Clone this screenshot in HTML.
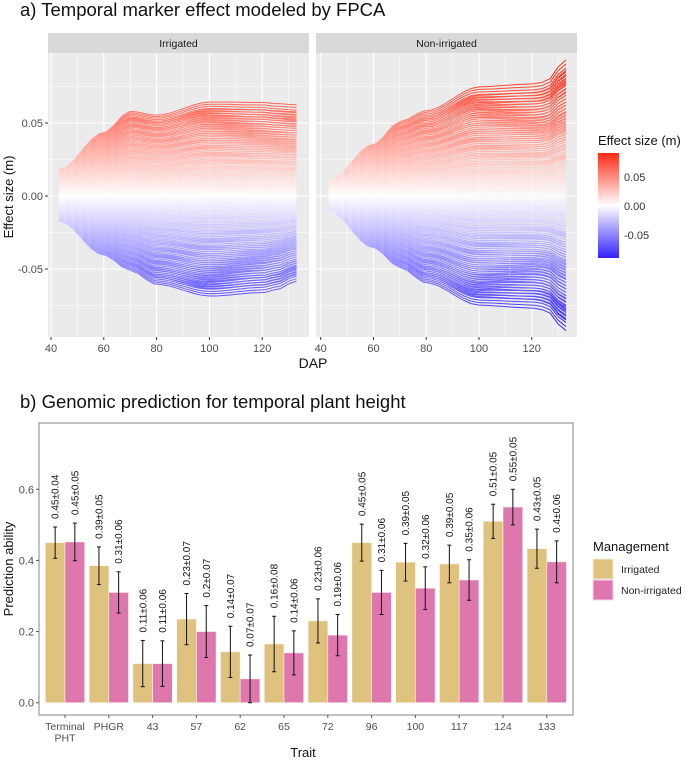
<!DOCTYPE html>
<html><head><meta charset="utf-8">
<style>
html,body{margin:0;padding:0;background:#fff;}
svg{display:block;font-family:"Liberation Sans",sans-serif;}
</style></head>
<body>
<svg id="fig" width="685" height="760" viewBox="0 0 685 760" xmlns="http://www.w3.org/2000/svg">
<defs>
<linearGradient id="cbar" x1="0" y1="0" x2="0" y2="1">
<stop offset="0" stop-color="#ff2a14"/>
<stop offset="0.5" stop-color="#ffffff"/>
<stop offset="1" stop-color="#3322ff"/>
</linearGradient>
</defs>
<text x="20" y="16" font-size="18.5" fill="#111">a) Temporal marker effect modeled by FPCA</text>
<g id="topPanel"></g>
<text x="313" y="368" font-size="14" fill="#111" text-anchor="middle">DAP</text>
<text transform="translate(13,197) rotate(-90)" font-size="13" fill="#111" text-anchor="middle">Effect size (m)</text>
<g>
<text x="598" y="145" font-size="13" fill="#111">Effect size (m)</text>
<rect x="598" y="153" width="21" height="105" fill="url(#cbar)"/>
<text x="624" y="181" font-size="11" fill="#333">0.05</text>
<text x="624" y="210" font-size="11" fill="#333">0.00</text>
<text x="624" y="239" font-size="11" fill="#333">-0.05</text>
</g>
<text x="20" y="408" font-size="18.5" fill="#111">b) Genomic prediction for temporal plant height</text>
<g id="botPanel"></g>
<text x="303" y="757" font-size="13" fill="#111" text-anchor="middle">Trait</text>
<text transform="translate(13,569) rotate(-90)" font-size="13" fill="#111" text-anchor="middle">Prediction ability</text>
<g>
<text x="593" y="551" font-size="13" fill="#111">Management</text>
<rect x="593" y="559" width="20" height="20" fill="#dfc27d" stroke="#f5ecd5"/>
<rect x="593" y="580" width="20" height="20" fill="#de77ae" stroke="#f5d5e5"/>
<text x="621" y="573" font-size="10.5" fill="#222">Irrigated</text>
<text x="621" y="594" font-size="10.5" fill="#222">Non-irrigated</text>
</g>
</svg>
<script>
// ---------- Panel a data ----------
const dapKnots = [43, 60, 70, 80, 100, 120, 125, 133];
const irrUpper = [0.018, 0.043, 0.057, 0.054, 0.062, 0.061, 0.060, 0.059];
const irrLower = [-0.017, -0.040, -0.050, -0.059, -0.066, -0.063, -0.061, -0.055];
const nonUpper = [0.010, 0.035, 0.050, 0.057, 0.072, 0.073, 0.074, 0.088];
const nonLower = [-0.010, -0.035, -0.048, -0.058, -0.072, -0.073, -0.074, -0.087];
const lineFractions = [];
for (let i = 0; i <= 90; i++) lineFractions.push(i / 90);
const xTicksA = [40, 60, 80, 100, 120];
const yTicksA = [-0.05, 0, 0.05];
const yTickLabelsA = ["-0.05", "0.00", "0.05"];
const facetNames = ["Irrigated", "Non-irrigated"];

// ---------- Panel b data ----------
const traits = ["Terminal\nPHT", "PHGR", "43", "57", "62", "65", "72", "96", "100", "117", "124", "133"];
const irrVals = [0.45, 0.385, 0.11, 0.235, 0.143, 0.165, 0.23, 0.45, 0.395, 0.39, 0.51, 0.433];
const nonVals = [0.452, 0.31, 0.11, 0.2, 0.067, 0.14, 0.19, 0.31, 0.322, 0.345, 0.55, 0.396];
const irrErr = [0.044, 0.053, 0.065, 0.072, 0.072, 0.078, 0.062, 0.052, 0.053, 0.053, 0.048, 0.055];
const nonErr = [0.053, 0.058, 0.064, 0.073, 0.067, 0.062, 0.058, 0.062, 0.06, 0.057, 0.05, 0.059];
const irrLabels = ["0.45±0.04","0.39±0.05","0.11±0.06","0.23±0.07","0.14±0.07","0.16±0.08","0.23±0.06","0.45±0.05","0.39±0.05","0.39±0.05","0.51±0.05","0.43±0.05"];
const nonLabels = ["0.45±0.05","0.31±0.06","0.11±0.06","0.2±0.07","0.07±0.07","0.14±0.06","0.19±0.06","0.31±0.06","0.32±0.06","0.35±0.06","0.55±0.05","0.4±0.06"];
const yTicksB = [0, 0.2, 0.4, 0.6];
const yTickLabelsB = ["0.0", "0.2", "0.4", "0.6"];

const NS = "http://www.w3.org/2000/svg";
function mk(tag, attrs, parent) {
  const e = document.createElementNS(NS, tag);
  for (const k in attrs) e.setAttribute(k, attrs[k]);
  parent.appendChild(e);
  return e;
}
function interp(xs, ys, x) {
  for (let i = 0; i < xs.length - 1; i++) {
    if (x <= xs[i + 1]) {
      const t = (x - xs[i]) / (xs[i + 1] - xs[i]);
      const s = t * t * (3 - 2 * t);
      return ys[i] + (ys[i + 1] - ys[i]) * s;
    }
  }
  return ys[ys.length - 1];
}
function colorFor(v) {
  const lim = 0.086;
  let t = Math.max(-1, Math.min(1, v / lim));
  let r, g, b;
  if (t >= 0) { r = 255; g = Math.round(255 - t * (255 - 42)); b = Math.round(255 - t * (255 - 20)); }
  else { t = -t; r = Math.round(255 - t * (255 - 51)); g = Math.round(255 - t * (255 - 34)); b = 255; }
  return `rgb(${r},${g},${b})`;
}

// ---------- draw panel a ----------
const topG = document.getElementById("topPanel");
const yA = v => 196 - v * 1460;
const PT = 53, PB = 337;
const panels = [
  {x0: 48, x1: 309, ax: d => 51 + (d - 40) * 2.64, up: irrUpper, lo: irrLower},
  {x0: 316, x1: 577, ax: d => 320.7 + (d - 40) * 2.638, up: nonUpper, lo: nonLower}
];
panels.forEach((p, pi) => {
  const g = mk("g", {}, topG);
  
  
  const strip = mk("rect", {x: p.x0, y: 33, width: p.x1 - p.x0, height: 20, fill: "#d9d9d9"}, g);
  
  
  const st = mk("text", {x: (p.x0 + p.x1) / 2, y: 47, "font-size": 10.5, fill: "#1a1a1a", "text-anchor": "middle"}, g);
  st.textContent = facetNames[pi];
  
  
  const bg = mk("rect", {x: p.x0, y: PT, width: p.x1 - p.x0, height: PB - PT, fill: "#ebebeb"}, g);
  
  
  [-0.075, -0.025, 0.025, 0.075].forEach(v => mk("line", {x1: p.x0, x2: p.x1, y1: yA(v), y2: yA(v), stroke: "#fff", "stroke-width": 0.5}, g));
  [50, 70, 90, 110, 130].forEach(d => mk("line", {x1: p.ax(d), x2: p.ax(d), y1: PT, y2: PB, stroke: "#fff", "stroke-width": 0.5}, g));
  yTicksA.forEach(v => mk("line", {x1: p.x0, x2: p.x1, y1: yA(v), y2: yA(v), stroke: "#fff", "stroke-width": 1.1}, g));
  xTicksA.forEach(d => {
    mk("line", {x1: p.ax(d), x2: p.ax(d), y1: PT, y2: PB, stroke: "#fff", "stroke-width": 1.1}, g);
    mk("line", {x1: p.ax(d), x2: p.ax(d), y1: PB, y2: PB + 3, stroke: "#333", "stroke-width": 1}, g);
    const t = mk("text", {x: p.ax(d), y: 352, "font-size": 11, fill: "#4d4d4d", "text-anchor": "middle"}, g);
    t.textContent = d;
    
    
  });
  const lines = mk("g", {"stroke-width": 1, fill: "none"}, g);
  
  
  const steps = [];
  for (let d = 43; d <= 133; d += 3) steps.push(d);
  [p.up, p.lo].forEach(env => {
    lineFractions.forEach((f, li) => {
      const wob = (li % 7 - 3) * 0.02;
      for (let s = 0; s < steps.length - 1; s++) {
        const d1 = steps[s], d2 = steps[s + 1];
        const v1 = interp(dapKnots, env, d1) * f * (1 + wob * (d1 - 43) / 90);
        const v2 = interp(dapKnots, env, d2) * f * (1 + wob * (d2 - 43) / 90);
        mk("line", {x1: p.ax(d1), y1: yA(v1), x2: p.ax(d2), y2: yA(v2), stroke: colorFor((v1 + v2) / 2)}, lines);
      }
    });
  });
  if (pi === 0) {
    yTicksA.forEach((v, i) => {
      mk("line", {x1: 45, x2: 48, y1: yA(v), y2: yA(v), stroke: "#333"}, g);
      const t = mk("text", {x: 43, y: yA(v) + 4, "font-size": 11, fill: "#4d4d4d", "text-anchor": "end"}, g);
      t.textContent = yTickLabelsA[i];
      
      
    });
  }
});

// ---------- draw panel b ----------
const botG = document.getElementById("botPanel");
const yB = v => 702.7 - v * 355.7;
const xB = i => 65 + i * 43.8;
const bw = 19.7;
const frame = mk("rect", {x: 39, y: 423, width: 534, height: 292, fill: "#fff", stroke: "#999", "stroke-width": 1.2}, botG);


yTicksB.forEach((v, i) => {
  mk("line", {x1: 36, x2: 39, y1: yB(v), y2: yB(v), stroke: "#555"}, botG);
  const t = mk("text", {x: 34, y: yB(v) + 4, "font-size": 11, fill: "#4d4d4d", "text-anchor": "end"}, botG);
  t.textContent = yTickLabelsB[i];
  
  
});
traits.forEach((tr, i) => {
  const cx = xB(i);
  mk("line", {x1: cx, x2: cx, y1: 715, y2: 718, stroke: "#555"}, botG);
  const parts = tr.split("\n");
  parts.forEach((pt, k) => {
    const t = mk("text", {x: cx, y: 730 + k * 11.5, "font-size": 10.5, fill: "#4d4d4d", "text-anchor": "middle"}, botG);
    t.textContent = pt;
    
    
  });
  const series = [
    {v: irrVals[i], e: irrErr[i], lab: irrLabels[i], col: "#dfc27d", x: cx - bw, name: "irrigated"},
    {v: nonVals[i], e: nonErr[i], lab: nonLabels[i], col: "#de77ae", x: cx, name: "non-irrigated"}
  ];
  series.forEach(s => {
    const r = mk("rect", {x: s.x, y: yB(s.v), width: bw, height: yB(0) - yB(s.v), fill: s.col, stroke: "#fbf3ea", "stroke-width": 0.6}, botG);
    
    
    const mx = s.x + bw / 2;
    const eg = mk("g", {stroke: "#111", "stroke-width": 1}, botG);
    
    
    mk("line", {x1: mx, x2: mx, y1: yB(s.v + s.e), y2: yB(Math.max(0, s.v - s.e))}, eg);
    mk("line", {x1: mx - 2, x2: mx + 2, y1: yB(s.v + s.e), y2: yB(s.v + s.e)}, eg);
    mk("line", {x1: mx - 2, x2: mx + 2, y1: yB(Math.max(0, s.v - s.e)), y2: yB(Math.max(0, s.v - s.e))}, eg);
    const ty = yB(s.v + s.e) - 8;
    const t = mk("text", {transform: `translate(${mx + 3.5},${ty}) rotate(-90)`, "font-size": 10, fill: "#111"}, botG);
    t.textContent = s.lab;
    
    
  });
});
</script>
</body></html>
